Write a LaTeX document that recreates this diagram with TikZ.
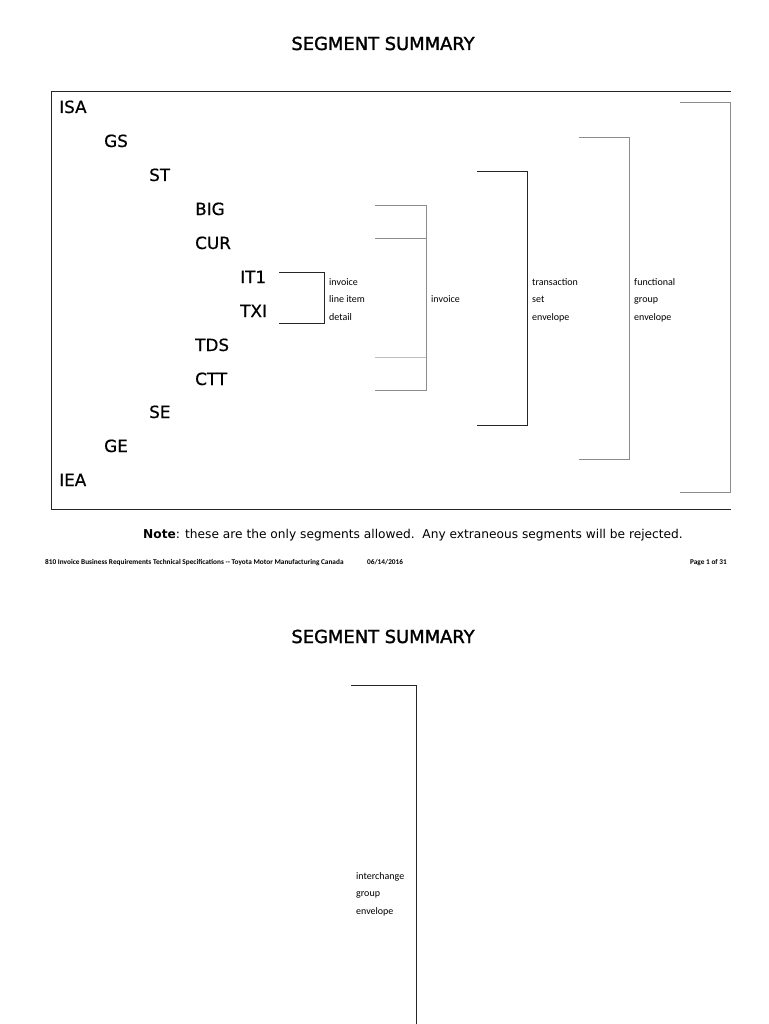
\documentclass[tikz,border=0pt]{standalone}
\usepackage{fontspec}
\setmainfont{DejaVu Sans}
\newfontfamily\smallf{Carlito}
\newfontfamily\segf[FakeBold=0.6]{DejaVu Sans}
\newfontfamily\ttlf[FakeBold=1.6]{DejaVu Sans}
\begin{document}
\begin{tikzpicture}[x=1pt,y=-1pt,
  seg/.style={anchor=base west,inner sep=0pt,font=\segf\fontsize{16.8}{16.8}\selectfont},
  lbl/.style={anchor=base west,inner sep=0pt,font=\smallf\fontsize{10}{10}\selectfont},
  ttl/.style={anchor=base,inner sep=0pt,font=\ttlf\fontsize{17.9}{17.9}\selectfont},
  foot/.style={inner sep=0pt,font=\smallf\bfseries\fontsize{7.3}{7.3}\selectfont},
  blk/.style={draw=black!85,line width=0.9pt},
  gry/.style={draw=black!45,line width=0.9pt},
  lgry/.style={draw=black!25,line width=0.9pt}]
\useasboundingbox (0,0) rectangle (768,1024);
\fill[white] (0,0) rectangle (768,1024);
% title
\node[ttl] (t1) at (383,50) {SEGMENT SUMMARY};
% frame
\coordinate (f1) at (731,91);
\coordinate (f2) at (51,91);
\coordinate (f3) at (51,509);
\coordinate (f4) at (731,509);
\draw[blk] (f1) -- (f2) -- (f3) -- (f4);
% segments
\node[seg] (isa) at (59,113) {ISA};
\node[seg] (gs) at (104,147) {GS};
\node[seg] (st) at (149,181) {ST};
\node[seg] (big) at (195,215) {BIG};
\node[seg] (cur) at (195,249) {CUR};
\node[seg] (it1) at (240,283) {IT1};
\node[seg] (txi) at (240,317) {TXI};
\node[seg] (tds) at (195,351) {TDS};
\node[seg] (ctt) at (195,385) {CTT};
\node[seg] (se) at (149,418) {SE};
\node[seg] (ge) at (104,452) {GE};
\node[seg] (iea) at (59,486) {IEA};
% line item bracket
\coordinate (a1) at (279,272); \coordinate (a2) at (324,272);
\coordinate (a3) at (324,323); \coordinate (a4) at (279,323);
\draw[blk] (a1) -- (a2) -- (a3) -- (a4);
\node[lbl] (l1) at (329,285) {invoice};
\node[lbl] (l2) at (329,302) {line item};
\node[lbl] (l3) at (329,320) {detail};
% invoice bracket
\coordinate (b1) at (375,205); \coordinate (b2) at (426,205);
\coordinate (b3) at (426,390); \coordinate (b4) at (375,390);
\coordinate (b5) at (375,238); \coordinate (b6) at (426,238);
\coordinate (b7) at (375,357); \coordinate (b8) at (426,357);
\draw[gry] (b1) -- (b2) -- (b3) -- (b4);
\draw[gry] (b5) -- (b6);
\draw[lgry] (b7) -- (b8);
\node[lbl] (l4) at (431,302) {invoice};
% transaction set bracket
\coordinate (c1) at (477,171); \coordinate (c2) at (527,171);
\coordinate (c3) at (527,425); \coordinate (c4) at (477,425);
\draw[blk] (c1) -- (c2) -- (c3) -- (c4);
\node[lbl] (l5) at (532,285) {transaction};
\node[lbl] (l6) at (532,302) {set};
\node[lbl] (l7) at (532,320) {envelope};
% functional group bracket
\coordinate (d1) at (579,137); \coordinate (d2) at (629,137);
\coordinate (d3) at (629,459); \coordinate (d4) at (579,459);
\draw[gry] (d1) -- (d2) -- (d3) -- (d4);
\node[lbl] (l8) at (634,285) {functional};
\node[lbl] (l9) at (634,302) {group};
\node[lbl] (l10) at (634,320) {envelope};
% interchange bracket
\coordinate (e1) at (680,102); \coordinate (e2) at (730,102);
\coordinate (e3) at (730,492); \coordinate (e4) at (680,492);
\draw[gry] (e1) -- (e2) -- (e3) -- (e4);
% note
\node[anchor=base,inner sep=0pt,font=\fontsize{12.2}{12.2}\selectfont] (note) at (413,538)
  {\textbf{Note}: these are the only segments allowed.\ \ Any extraneous segments will be rejected.};
% footer
\node[foot,anchor=base west] (ft1) at (45,564)
  {810 Invoice Business Requirements Technical Specifications -- Toyota Motor Manufacturing Canada};
\node[foot,anchor=base west] (ft2) at (367,564) {06/14/2016};
\node[foot,anchor=base east] (ft3) at (727,564) {Page 1 of 31};
% second page
\node[ttl] (t2) at (383,643) {SEGMENT SUMMARY};
\coordinate (g1) at (351,685); \coordinate (g2) at (416,685);
\coordinate (g3) at (416,1030);
\draw[blk] (g1) -- (g2) -- (g3);
\node[lbl] (l11) at (356,879) {interchange};
\node[lbl] (l12) at (356,896) {group};
\node[lbl] (l13) at (356,914) {envelope};
\end{tikzpicture}
\end{document}
